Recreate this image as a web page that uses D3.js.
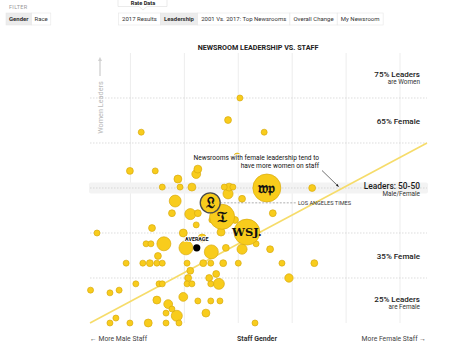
<!DOCTYPE html>
<html>
<head>
<meta charset="utf-8">
<script src="https://d3js.org/d3.v7.min.js"></script>
<style>
  body { margin: 0; background: #fff; }
  svg { font-family: Roboto, "Noto Sans", sans-serif; display: block; }
</style>
</head>
<body>
<div id="chart"></div>
<script>
// newsrooms: % women on staff, % women in leadership, staff size
const staffFemale = [40.3, 38.1, 44.8, 22.0, 19.9, 39.8, 24.6, 28.8, 32.5, 32.2,
  25.9, 29.2, 31.4, 37.4, 38.3, 39.0, 38.1, 40.7, 28.3, 27.7,
  31.1, 32.5, 46.4, 35.1, 39.4, 24.0, 13.8, 29.8, 32.2, 33.3,
  36.8, 22.9, 23.8, 26.2, 30.3, 35.0, 37.7, 40.7, 43.3, 45.9,
  25.1, 19.2, 22.3, 23.6, 24.9, 25.9, 30.5, 33.5, 34.9, 37.2,
  40.0, 48.1, 54.1, 31.1, 30.7, 35.9, 34.6, 49.4, 21.0, 25.3,
  25.9, 30.5, 31.4, 34.9, 36.4, 12.6, 16.2, 17.9, 29.8, 24.9,
  27.0, 27.7, 32.5, 34.9, 36.6, 26.6, 28.6, 34.0, 16.2, 17.3,
  19.9, 23.3, 26.6, 29.0, 43.1, 53.7];
const leadersFemale = [70.0, 65.1, 62.4, 62.4, 53.8, 57.1, 53.8, 52.0, 54.2, 53.1,
  50.2, 50.2, 50.2, 50.2, 50.2, 50.2, 48.7, 47.6, 47.1, 44.4,
  44.2, 44.4, 44.4, 42.9, 42.9, 41.1, 40.0, 40.0, 41.8, 38.9,
  40.2, 37.6, 37.6, 37.6, 36.7, 35.8, 36.7, 36.4, 37.6, 36.4,
  34.9, 33.3, 33.3, 33.3, 33.3, 33.3, 33.3, 33.3, 33.3, 33.3,
  33.3, 33.3, 33.3, 31.6, 30.0, 30.9, 30.0, 30.0, 28.7, 28.7,
  28.7, 28.7, 28.7, 28.7, 28.7, 27.3, 26.7, 27.3, 25.8, 25.1,
  24.2, 23.1, 24.9, 24.9, 24.9, 22.2, 21.6, 22.2, 20.0, 21.1,
  20.0, 20.0, 20.0, 20.0, 20.0, 50.0];
const newsroomSize = [45, 60, 45, 45, 60, 45, 45, 80, 80, 100,
  45, 45, 80, 45, 80, 45, 130, 60, 180, 60,
  155, 60, 60, 45, 60, 60, 45, 80, 45, 80,
  80, 45, 45, 250, 250, 250, 60, 130, 45, 60,
  60, 45, 45, 60, 45, 45, 45, 60, 45, 60,
  45, 45, 60, 60, 60, 60, 60, 90, 45, 45,
  45, 45, 45, 45, 155, 45, 45, 45, 100, 80,
  100, 45, 45, 45, 45, 45, 155, 80, 45, 45,
  45, 80, 45, 45, 45, 60];

// highlighted outlets
const outletNames = ["Los Angeles Times", "The New York Times", "The Wall Street Journal", "The Washington Post"];
const outletLogos = ["\u{1D50F}", "\u{1D517}", "WSJ.", "\u{1D534}\u{1D52D}"];
const outletStaff = [34.8, 37.0, 41.6, 45.3];
const outletLeaders = [46.7, 43.6, 40.2, 50.0];
const outletSize = [510, 800, 860, 1000];

const average = {staff: 32.3, leaders: 36.7};
const trendLine = [{staff: 12.5, leaders: 20}, {staff: 75, leaders: 60}];

const xTicks = [20, 30, 40, 50, 60, 70];
const yTicks = [30, 40, 60, 70];
const bandValues = [75, 65, 50, 35, 25];
const bandMain = ["75% Leaders", "65% Female", "Leaders: 50-50", "35% Female", "25% Leaders"];
const bandSub = ["are Women", "", "Male/Female", "", "are Female"];

const tabs = ["2017 Results", "Leadership", "2001 Vs. 2017: Top Newsrooms", "Overall Change", "My Newsroom"];
const filters = ["Gender", "Race"];

const width = 450, height = 351;
const margin = {top: 53, right: 23, bottom: 28, left: 90};

const x = d3.scaleLinear().domain([12.5, 75]).range([margin.left, width - margin.right]);
const y = d3.scaleLinear().domain([20, 80]).range([height - margin.bottom, margin.top]);
const r = d3.scaleSqrt().domain([0, 1000]).range([0, 14]);

const svg = d3.select("#chart").append("svg")
  .attr("width", width).attr("height", height)
  .attr("viewBox", [0, 0, width, height]);

const defs = svg.append("defs");
defs.append("marker").attr("id", "arrowBlack")
  .attr("viewBox", "0 0 10 10").attr("refX", 8).attr("refY", 5)
  .attr("markerWidth", 5).attr("markerHeight", 5).attr("orient", "auto")
  .append("path").attr("d", "M0,1L9,5L0,9z").attr("fill", "#111");
defs.append("marker").attr("id", "arrowGray")
  .attr("viewBox", "0 0 10 10").attr("refX", 5).attr("refY", 5)
  .attr("markerWidth", 3.2).attr("markerHeight", 3.2).attr("orient", "auto")
  .append("path").attr("d", "M0,0L10,5L0,10z").attr("fill", "#d0d0d0");

// ---- top controls
svg.append("text").attr("x", 9).attr("y", 8.5)
  .attr("font-size", 5.5).attr("fill", "#999").attr("letter-spacing", 0.3).text("FILTER");

function buttonRow(labels, x0, y0, h, active, pad) {
  const g = svg.append("g");
  let cx = x0;
  labels.forEach((lab, i) => {
    const t = g.append("text").attr("y", y0 + h / 2 + 2.1)
      .attr("font-size", 6).attr("fill", "#333")
      .attr("font-weight", i === active ? 700 : 400).text(lab);
    const w = t.node().getComputedTextLength() + pad * 2;
    g.insert("rect", "text").attr("x", cx).attr("y", y0).attr("width", w).attr("height", h)
      .attr("fill", i === active ? "#ececec" : "#fff").attr("stroke", "#e6e6e6").attr("stroke-width", 0.6);
    t.attr("x", cx + pad);
    cx += w;
  });
}
buttonRow(filters, 6, 13, 12, 0, 3);
buttonRow(tabs, 118.5, 13, 12, 1, 3.6);

// tooltip "Rate Data" peeking at the top
const tip = svg.append("g");
tip.append("path").attr("d", "M118,-4H167V6.5H147L143,10L139,6.5H118Z")
  .attr("fill", "#fff").attr("stroke", "#ddd").attr("stroke-width", 0.6);
tip.append("text").attr("x", 143).attr("y", 4.6).attr("text-anchor", "middle")
  .attr("font-size", 5.6).attr("font-weight", 700).attr("fill", "#222").text("Rate Data");

// ---- title
svg.append("text").attr("x", 258).attr("y", 50).attr("text-anchor", "middle")
  .attr("font-size", 7.2).attr("font-weight", 700).attr("fill", "#222")
  .text("NEWSROOM LEADERSHIP VS. STAFF");

// ---- grid
const plot = svg.append("g");
plot.selectAll(".vgrid").data(xTicks).join("line")
  .attr("x1", d => x(d)).attr("x2", d => x(d))
  .attr("y1", y(80)).attr("y2", y(20))
  .attr("stroke", "#e8e8e8").attr("stroke-width", 0.8);

plot.append("rect").attr("x", x(12.5) - 1).attr("width", x(75) - x(12.5) + 2)
  .attr("y", y(51.2)).attr("height", y(48.8) - y(51.2))
  .attr("fill", "#f3f3f3").attr("rx", 2);

plot.selectAll(".hgrid").data(yTicks.concat([50])).join("line")
  .attr("x1", x(12.5)).attr("x2", x(75))
  .attr("y1", d => y(d)).attr("y2", d => y(d))
  .attr("stroke", "#c8c8c8").attr("stroke-width", 0.6).attr("stroke-dasharray", "1.5,1.5");

// band labels
bandValues.forEach((v, i) => {
  const big = i === 2;
  plot.append("text").attr("x", 420).attr("y", y(v) + (bandSub[i] ? 1 : 3))
    .attr("text-anchor", "end").attr("font-size", big ? 8.4 : 8)
    .attr("font-weight", 500).attr("fill", "#1a1a1a").text(bandMain[i]);
  if (bandSub[i]) plot.append("text").attr("x", 420).attr("y", y(v) + 8.2)
    .attr("text-anchor", "end").attr("font-size", 6.4).attr("fill", "#333").text(bandSub[i]);
});

// y label with arrow
svg.append("line").attr("x1", 100).attr("x2", 100).attr("y1", 76).attr("y2", 59)
  .attr("stroke", "#d0d0d0").attr("stroke-width", 1.3).attr("marker-end", "url(#arrowGray)");
svg.append("text").attr("transform", "translate(102.5,107.5) rotate(-90)")
  .attr("text-anchor", "middle").attr("font-size", 7.3).attr("fill", "#b8b8b8").text("Women Leaders");

// trend line
const line = d3.line().x(d => x(d.staff)).y(d => y(d.leaders));
plot.append("path").attr("d", line(trendLine))
  .attr("fill", "none").attr("stroke", "#f6dc6a").attr("stroke-width", 1.6);

// ---- bubbles
const fill = "#f8cc1c", stroke = "#d9ab10";
const points = staffFemale.map((s, i) => ({staff: s, leaders: leadersFemale[i], size: newsroomSize[i]}));
plot.selectAll(".dot").data(points.sort((a, b) => b.size - a.size)).join("circle")
  .attr("cx", d => x(d.staff)).attr("cy", d => y(d.leaders))
  .attr("r", d => Math.max(3, r(d.size)))
  .attr("fill", fill).attr("stroke", stroke).attr("stroke-width", 0.7);

// named outlets (drawn T, WSJ, WP then LA on top)
const outlets = outletNames.map((n, i) => ({name: n, logo: outletLogos[i], staff: outletStaff[i], leaders: outletLeaders[i], size: outletSize[i]}));
const order = [1, 2, 3, 0];
order.forEach(i => {
  const d = outlets[i];
  const g = plot.append("g").attr("transform", `translate(${x(d.staff)},${y(d.leaders)})`);
  g.append("circle").attr("r", r(d.size)).attr("fill", fill)
    .attr("stroke", i === 0 ? "#4a4a4a" : stroke).attr("stroke-width", i === 0 ? 1.3 : 0.7);
  const wsj = d.logo === "WSJ.";
  g.append("text").attr("text-anchor", "middle")
    .attr("y", wsj ? 4 : 5)
    .attr("font-family", wsj ? "'DejaVu Serif', serif" : "'DejaVu Sans', 'DejaVu Serif', serif")
    .attr("font-size", wsj ? 11.5 : 15)
    .attr("font-weight", 700).attr("fill", "#111")
    .text(d.logo);
});

// LA Times leader line
const la = outlets[0];
plot.append("line").attr("x1", x(la.staff) + r(la.size)).attr("x2", 297)
  .attr("y1", y(la.leaders)).attr("y2", y(la.leaders))
  .attr("stroke", "#777").attr("stroke-width", 0.6).attr("stroke-dasharray", "2,1.5");
plot.append("text").attr("x", 298).attr("y", y(la.leaders) + 2.3)
  .attr("font-size", 5.6).attr("fill", "#333").text("LOS ANGELES TIMES");

// average
plot.append("circle").attr("cx", x(average.staff)).attr("cy", y(average.leaders)).attr("r", 3.6).attr("fill", "#000");
plot.append("text").attr("x", x(average.staff)).attr("y", y(average.leaders) - 6.5)
  .attr("text-anchor", "middle").attr("font-size", 5.3).attr("font-weight", 700)
  .attr("fill", "#111").attr("stroke", "#fff").attr("stroke-width", 1.6).attr("paint-order", "stroke")
  .text("AVERAGE");

// annotation
const note = plot.append("text").attr("text-anchor", "end").attr("font-size", 6.6).attr("fill", "#111")
  .attr("stroke", "#fff").attr("stroke-width", 1.5).attr("paint-order", "stroke");
note.append("tspan").attr("x", 319).attr("y", 159.5).text("Newsrooms with female leadership tend to");
note.append("tspan").attr("x", 319).attr("y", 168).text("have more women on staff");
plot.append("line").attr("x1", 322).attr("y1", 170.5).attr("x2", 338.5).attr("y2", 186.5)
  .attr("stroke", "#111").attr("stroke-width", 0.6).attr("marker-end", "url(#arrowBlack)");

// x axis labels
svg.append("text").attr("x", 90).attr("y", 341).attr("font-size", 6.8).attr("fill", "#444").text("\u2190 More Male Staff");
svg.append("text").attr("x", 257).attr("y", 341).attr("text-anchor", "middle")
  .attr("font-size", 7).attr("font-weight", 700).attr("fill", "#333").text("Staff Gender");
svg.append("text").attr("x", 426).attr("y", 341).attr("text-anchor", "end")
  .attr("font-size", 6.8).attr("fill", "#444").text("More Female Staff \u2192");
</script>
</body>
</html>
